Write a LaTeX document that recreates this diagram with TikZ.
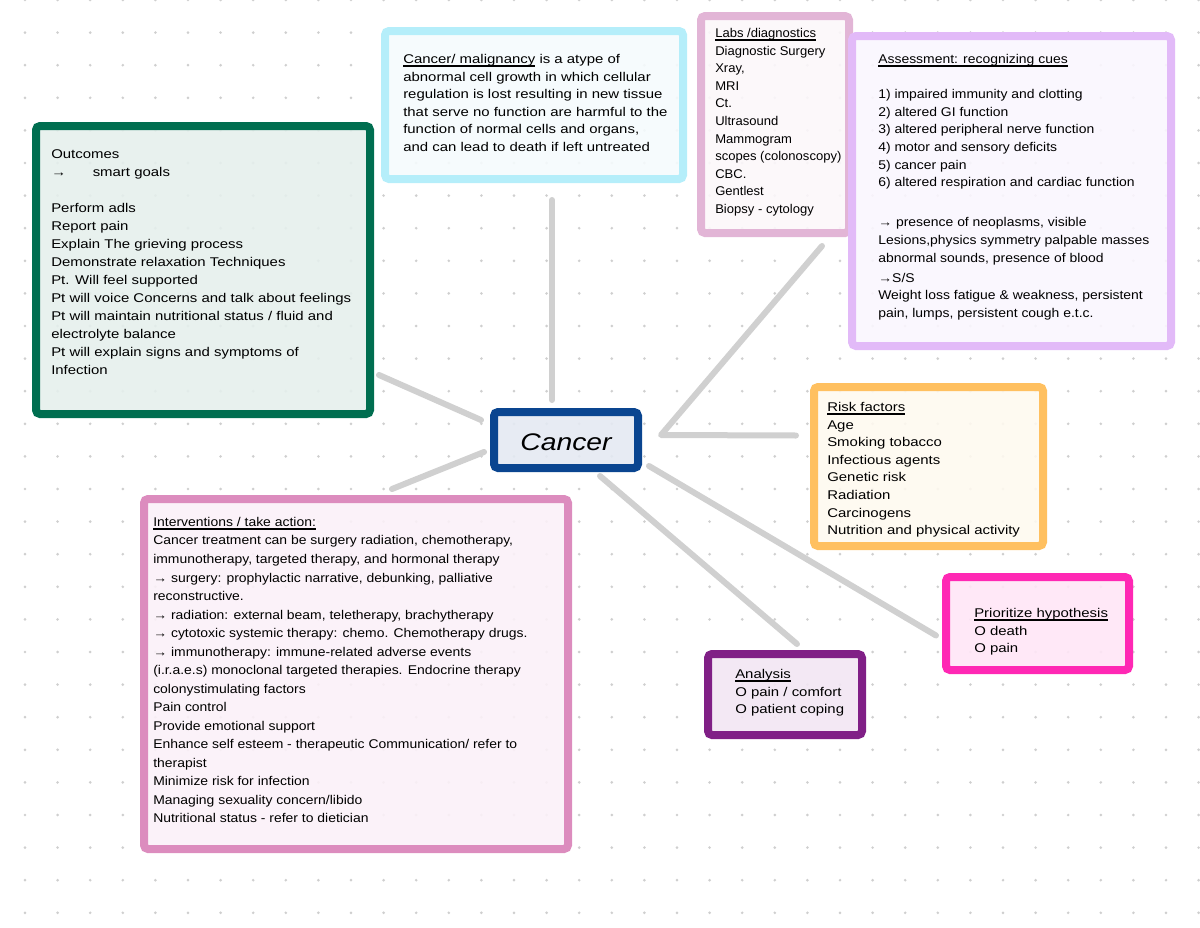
\documentclass[tikz,border=0pt]{standalone}
\usepackage{fontspec}
\setmainfont{Liberation Sans}[FakeStretch=1.18]
\newfontfamily\labsfont{Liberation Sans}[FakeStretch=1.03]
\newfontfamily\interfont{Liberation Sans}[FakeStretch=1.10]
\usetikzlibrary{fit}
\newsavebox{\ulbox}
\newcommand{\uln}[1]{\sbox{\ulbox}{#1}\rlap{\rule[-2.6pt]{\wd\ulbox}{1.5pt}}\usebox{\ulbox}}
\definecolor{outcomesc}{HTML}{006E50}
\definecolor{outcomesf}{HTML}{E5EFEC}
\definecolor{defc}{HTML}{B5EEFA}
\definecolor{deff}{HTML}{F5FBFD}
\definecolor{labsc}{HTML}{E2B5D6}
\definecolor{labsf}{HTML}{FCF7FA}
\definecolor{assessc}{HTML}{E2BAF8}
\definecolor{assessf}{HTML}{FAF6FE}
\definecolor{riskc}{HTML}{FFC060}
\definecolor{riskf}{HTML}{FEF9EF}
\definecolor{interc}{HTML}{DC8CBE}
\definecolor{interf}{HTML}{FBF1F8}
\definecolor{analysisc}{HTML}{801F86}
\definecolor{analysisf}{HTML}{F2E6F3}
\definecolor{prioc}{HTML}{FF28B4}
\definecolor{priof}{HTML}{FFE6F6}
\definecolor{cancerc}{HTML}{0A4590}
\definecolor{cancerf}{HTML}{E4E9F2}
\definecolor{linkgray}{HTML}{D0D0D0}
\definecolor{dotgray}{HTML}{CFCFCF}
\tikzset{
    box/.style 2 args={
        draw=#1,
        fill=#2,
        fill opacity=0.9,
        text opacity=1,
        line width=6pt,
        rounded corners=3pt,
        inner sep=0pt
    },
    txt/.style={
        anchor=north west,
        inner sep=0pt,
        align=left,
        font=\fontsize{9.5}{13.2}\selectfont
    },
    link/.style={
        draw=linkgray,
        line width=4.5pt,
        line cap=round,
        line join=round
    },
    griddot/.style={fill=dotgray}
}

\begin{document}
\begin{tikzpicture}[x=0.75pt, y=-0.75pt]

\useasboundingbox (0,0) rectangle (1200,928);

% dotted paper
\foreach \i in {0,...,36} {
    \foreach \j in {0,...,28} {
        \fill[griddot] (25+32.6*\i, 32.6*\j) circle[radius=1.1pt];
    }
}

% boxes
\node[box={cancerc}{cancerf}, fit={(494,412) (638,468)}] (cancer) {};
\node[box={outcomesc}{outcomesf}, fit={(36,126) (370,414)}] (outcomes) {};
\node[box={defc}{deff}, fit={(385,31) (683,179)}] (definition) {};
\node[box={labsc}{labsf}, fit={(701,16) (849,233)}] (labs) {};
\node[box={assessc}{assessf}, fit={(852,36) (1171,346)}] (assessment) {};
\node[box={riskc}{riskf}, fit={(814,387) (1043,546)}] (risk) {};
\node[box={interc}{interf}, fit={(144,499) (568,849)}] (interventions) {};
\node[box={analysisc}{analysisf}, fit={(708,654) (862,735)}] (analysis) {};
\node[box={prioc}{priof}, fit={(946,577) (1129,670)}] (prioritize) {};

% texts
\node[font=\fontsize{18}{22}\selectfont\itshape, inner sep=0pt]
    (cancertext) at ([shift={(0,2)}]cancer.center) {Cancer};
\node[txt, font=\fontsize{9.5}{13.5}\selectfont] (outcomestext)
    at ([shift={(19,27)}]outcomes.north west)
    {Outcomes\\
     →\hspace{7mm}smart goals\\[14pt]
     Perform adls\\
     Report pain\\
     Explain The grieving process\\
     Demonstrate relaxation Techniques\\
     Pt. Will feel supported\\
     Pt will voice Concerns and talk about feelings\\
     Pt will maintain nutritional status / fluid and\\
     electrolyte balance\\
     Pt will explain signs and symptoms of\\
     Infection};
\node[txt] (definitiontext) at ([shift={(22,27)}]definition.north west)
    {\uln{Cancer/ malignancy} is a atype of\\
     abnormal cell growth in which cellular\\
     regulation is lost resulting in new tissue\\
     that serve no function are harmful to the\\
     function of normal cells and organs,\\
     and can lead to death if left untreated};
\node[txt, font=\fontsize{9.5}{13.2}\selectfont\labsfont] (labstext)
    at ([shift={(18,16)}]labs.north west)
    {\uln{Labs /diagnostics}\\
     Diagnostic Surgery\\
     Xray,\\
     MRI\\
     Ct.\\
     Ultrasound\\
     Mammogram\\
     scopes (colonoscopy)\\
     CBC.\\
     Gentlest\\
     Biopsy - cytology};
\node[txt, font=\fontsize{9.5}{13.2}\selectfont\interfont] (assessmenttext)
    at ([shift={(30,22)}]assessment.north west)
    {\uln{Assessment: recognizing cues}\\[13.2pt]
     1) impaired immunity and clotting\\
     2) altered GI function\\
     3) altered peripheral nerve function\\
     4) motor and sensory deficits\\
     5) cancer pain\\
     6) altered respiration and cardiac function\\[17pt]
     → presence of neoplasms, visible\\
     Lesions,physics symmetry palpable masses\\
     abnormal sounds, presence of blood\\[2pt]
     →S/S\\
     Weight loss fatigue \& weakness, persistent\\
     pain, lumps, persistent cough e.t.c.};
\node[txt] (risktext) at ([shift={(17,19)}]risk.north west)
    {\uln{Risk factors}\\
     Age\\
     Smoking tobacco\\
     Infectious agents\\
     Genetic risk\\
     Radiation\\
     Carcinogens\\
     Nutrition and physical activity};
\node[txt, font=\fontsize{9.5}{13.9}\selectfont\interfont] (interventionstext)
    at ([shift={(13,22)}]interventions.north west)
    {\uln{Interventions / take action:}\\
     Cancer treatment can be surgery radiation, chemotherapy,\\
     immunotherapy, targeted therapy, and hormonal therapy\\
     → surgery: prophylactic narrative, debunking, palliative\\
     reconstructive.\\
     → radiation: external beam, teletherapy, brachytherapy\\
     → cytotoxic systemic therapy: chemo. Chemotherapy drugs.\\
     → immunotherapy: immune-related adverse events\\
     (i.r.a.e.s) monoclonal targeted therapies. Endocrine therapy\\
     colonystimulating factors\\
     Pain control\\
     Provide emotional support\\
     Enhance self esteem - therapeutic Communication/ refer to\\
     therapist\\
     Minimize risk for infection\\
     Managing sexuality concern/libido\\
     Nutritional status - refer to dietician};
\node[txt] (analysistext) at ([shift={(31,19)}]analysis.north west)
    {\uln{Analysis}\\
     O pain / comfort\\
     O patient coping};
\node[txt] (prioritizetext) at ([shift={(32,35)}]prioritize.north west)
    {\uln{Prioritize hypothesis}\\
     O death\\
     O pain};

% connectors
\coordinate (hub) at ([shift={(19,-5)}]cancer.east);
\draw[link] ([shift={(18,17)}]definition.south)
    -- ([shift={(-14,-8)}]cancer.north);
\draw[link] ([shift={(5,105)}]outcomes.east)
    -- ([shift={(-9,-20)}]cancer.west);
\draw[link] ([shift={(36,-6)}]interventions.north)
    -- ([shift={(-6,12)}]cancer.west);
\draw[link] ([shift={(47,9)}]labs.south) -- (hub)
    -- ([shift={(-14,-31)}]risk.west);
\draw[link] ([shift={(34,4)}]cancer.south)
    -- ([shift={(12,-6)}]analysis.north);
\draw[link] ([shift={(7,26)}]cancer.east)
    -- ([shift={(-6,12)}]prioritize.west);

\end{tikzpicture}
\end{document}
